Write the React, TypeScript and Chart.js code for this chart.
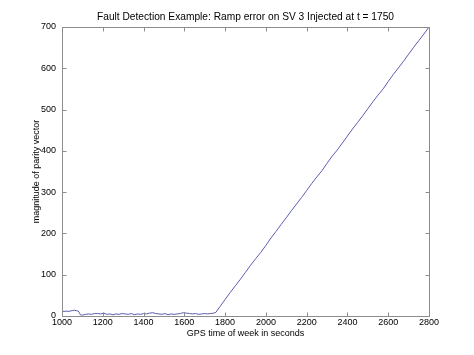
import React, { useEffect, useRef } from "react";
import { Chart, registerables } from "chart.js";

Chart.register(...registerables);

const TITLE = "Fault Detection Example: Ramp error on SV 3 Injected at t = 1750";
const X_LABEL = "GPS time of week in seconds";
const Y_LABEL = "magnitude of parity vector";

const times = [
  1000, 1010, 1020, 1030, 1040, 1050, 1060, 1070, 1080, 1085, 1090, 1100, 1115, 1130, 1145, 1160, 1175, 1190,
  1205, 1220, 1235, 1250, 1265, 1280, 1295, 1310, 1325, 1340, 1355, 1370, 1385, 1400, 1415, 1430, 1445, 1460,
  1475, 1490, 1505, 1520, 1535, 1550, 1565, 1580, 1595, 1610, 1625, 1640, 1655, 1670, 1685, 1700, 1715, 1730,
  1745, 1755, 1775, 1800, 1825, 1850, 1875, 1900, 1925, 1950, 1975, 2000, 2025, 2050, 2075, 2100, 2125, 2150,
  2175, 2200, 2225, 2250, 2275, 2300, 2325, 2350, 2375, 2400, 2425, 2450, 2475, 2500, 2525, 2550, 2575, 2600,
  2625, 2650, 2675, 2700, 2725, 2750, 2775, 2800,
];

const parity = [
  12, 11, 12, 11, 12, 13, 14, 13, 12, 8, 3, 2, 4, 5, 4, 6, 6, 5,
  7, 4, 5, 3, 5, 4, 6, 5, 4, 6, 3, 5, 4, 6, 5, 7, 8, 6,
  5, 4, 6, 3, 5, 4, 5, 6, 8, 7, 6, 5, 6, 4, 5, 6, 5, 6,
  7, 9, 23, 40, 57, 73, 89, 106, 123, 139, 154, 171, 189, 205, 222, 238, 255, 271,
  287, 304, 321, 337, 352, 370, 387, 402, 419, 436, 453, 469, 485, 502, 519, 535, 550, 568,
  585, 601, 617, 634, 651, 667, 683, 700,
];

const xTicks = [1000, 1200, 1400, 1600, 1800, 2000, 2200, 2400, 2600, 2800];
const yTicks = [0, 100, 200, 300, 400, 500, 600, 700];

const FONT = "'Liberation Sans', Arial, sans-serif";

const boxPlugin = {
  id: "matlabBox",
  afterDatasetsDraw(chart: any) {
    const { ctx, chartArea: a, scales } = chart;
    ctx.save();
    ctx.strokeStyle = "#8c8c8c";
    ctx.lineWidth = 1;
    ctx.beginPath();
    const L = Math.round(a.left) + 0.5, R = Math.round(a.right) + 0.5;
    const T = Math.round(a.top) + 0.5, B = Math.round(a.bottom) + 0.5;
    ctx.rect(L, T, R - L, B - T);
    const len = 4;
    for (const v of xTicks) {
      const px = Math.round(scales.x.getPixelForValue(v)) + 0.5;
      ctx.moveTo(px, B); ctx.lineTo(px, B - len);
      ctx.moveTo(px, T); ctx.lineTo(px, T + len);
    }
    for (const v of yTicks) {
      const py = Math.round(scales.y.getPixelForValue(v)) + 0.5;
      ctx.moveTo(L, py); ctx.lineTo(L + len, py);
      ctx.moveTo(R, py); ctx.lineTo(R - len, py);
    }
    ctx.stroke();

    ctx.fillStyle = "#000";
    ctx.textAlign = "center";
    ctx.textBaseline = "middle";
    const cx = (a.left + a.right) / 2;
    const cy = (a.top + a.bottom) / 2;
    ctx.font = `10.2px ${FONT}`;
    ctx.fillText(TITLE, cx, a.top - 10);
    ctx.font = `9px ${FONT}`;
    ctx.fillText(X_LABEL, cx, a.bottom + 18);
    ctx.translate(37, cy);
    ctx.rotate(-Math.PI / 2);
    ctx.fillText(Y_LABEL, 0, 0);
    ctx.restore();
  },
};

export default function App() {
  const ref = useRef<HTMLCanvasElement>(null);
  useEffect(() => {
    document.body.style.margin = "0";
    const chart = new Chart(ref.current!, {
      type: "line",
      data: {
        datasets: [
          {
            data: times.map((t, i) => ({ x: t, y: parity[i] })),
            borderColor: "#5c5cb0",
            borderWidth: 1,
            pointRadius: 0,
            tension: 0,
          },
        ],
      },
      options: {
        animation: false,
        responsive: false,
        layout: { padding: { left: 0, right: 45, top: 27, bottom: 0 } },
        plugins: {
          legend: { display: false },
          tooltip: { enabled: false },
          title: { display: false },
        },
        scales: {
          x: {
            type: "linear",
            min: 1000,
            max: 2800,
            afterBuildTicks: (s: any) => { s.ticks = xTicks.map((v) => ({ value: v })); },
            afterFit: (s: any) => { s.height = 39; },
            ticks: {
              color: "#000",
              font: { family: FONT, size: 9 },
              padding: 1,
              maxRotation: 0,
              autoSkip: false,
              callback: (v: any) => String(v),
            },
            grid: { display: false, drawTicks: false },
            border: { display: false },
          },
          y: {
            type: "linear",
            min: 0,
            max: 700,
            afterBuildTicks: (s: any) => { s.ticks = yTicks.map((v) => ({ value: v })); },
            afterFit: (s: any) => { s.width = 62; },
            ticks: {
              color: "#000",
              font: { family: FONT, size: 9 },
              padding: 6,
              autoSkip: false,
              callback: (v: any) => String(v),
            },
            grid: { display: false, drawTicks: false },
            border: { display: false },
          },
        },
      },
      plugins: [boxPlugin],
    });
    return () => chart.destroy();
  }, []);
  return (
    <div style={{ width: 474, height: 355, background: "#fff" }}>
      <canvas ref={ref} width={474} height={355} />
    </div>
  );
}
